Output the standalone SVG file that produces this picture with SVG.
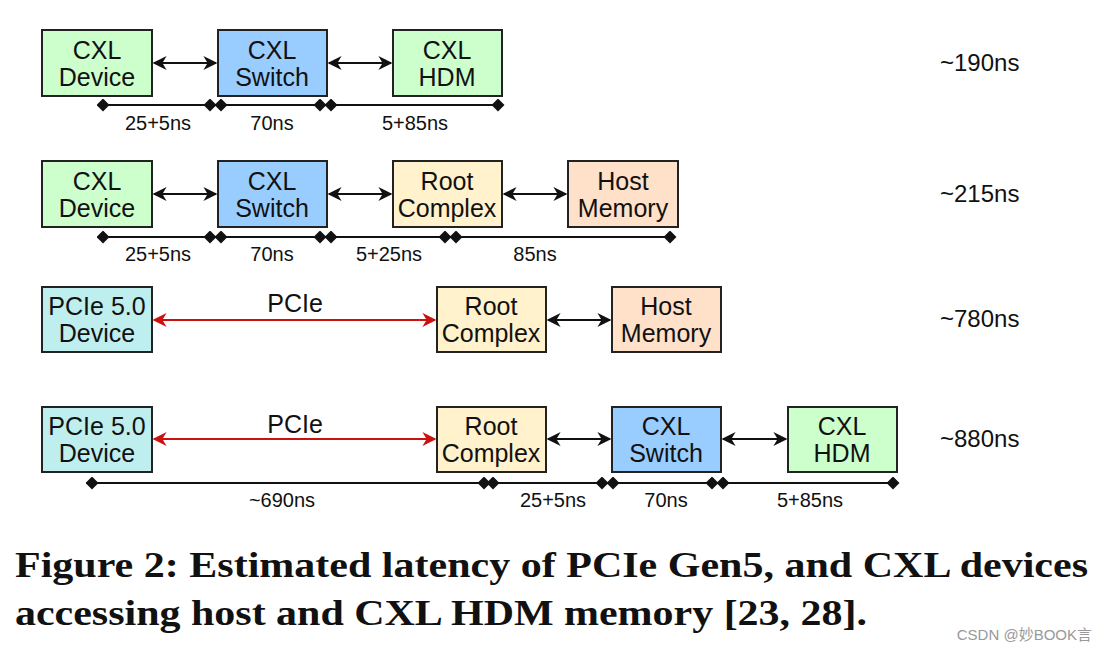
<svg xmlns="http://www.w3.org/2000/svg" width="1096" height="649" viewBox="0 0 1096 649">
<style>
.b{stroke:#222;stroke-width:2}
.g{fill:#ccffcc}.bl{fill:#99ccff}.y{fill:#fff2cc}.o{fill:#ffe0c8}.c{fill:#bfeeee}
.t{font-family:"Liberation Sans",Arial,sans-serif;font-size:25px;fill:#111;text-anchor:middle}
.s{font-family:"Liberation Sans",Arial,sans-serif;font-size:20px;fill:#111;text-anchor:middle}
.r{font-family:"Liberation Sans",Arial,sans-serif;font-size:24px;fill:#111}
.cap{font-family:"Liberation Serif","Times New Roman",serif;font-size:35px;font-weight:bold;fill:#111}
.k{stroke:#111;stroke-width:2;fill:none;marker-start:url(#ah);marker-end:url(#ah)}
.red{stroke:#cc1111;stroke-width:2;fill:none;marker-start:url(#ar);marker-end:url(#ar)}
.d{stroke:#111;stroke-width:2;fill:none;marker-start:url(#dm);marker-end:url(#dm)}
</style>
<defs>
<marker id="ah" viewBox="0 0 10 10" refX="9" refY="5" markerWidth="7" markerHeight="7" orient="auto-start-reverse" markerUnits="strokeWidth"><path d="M0,0 L10,5 L0,10 L3,5 Z" fill="#111"/></marker>
<marker id="ar" viewBox="0 0 10 10" refX="9" refY="5" markerWidth="7" markerHeight="7" orient="auto-start-reverse" markerUnits="strokeWidth"><path d="M0,0 L10,5 L0,10 L3,5 Z" fill="#cc1111"/></marker>
<marker id="dm" viewBox="0 0 10 10" refX="5" refY="5" markerWidth="6.5" markerHeight="6.5" orient="auto" markerUnits="strokeWidth"><path d="M0,5 L5,0 L10,5 L5,10 Z" fill="#111"/></marker>
</defs>
<rect width="1096" height="649" fill="#fff"/>
<g id="r1-dev"><rect class="b g" x="42" y="30" width="110" height="66"/><text class="t" x="97" y="59">CXL</text><text class="t" x="97" y="86">Device</text></g>
<g id="r1-sw"><rect class="b bl" x="218" y="30" width="109" height="66"/><text class="t" x="272" y="59">CXL</text><text class="t" x="272" y="86">Switch</text></g>
<g id="r1-hdm"><rect class="b g" x="393" y="30" width="109" height="66"/><text class="t" x="447" y="59">CXL</text><text class="t" x="447" y="86">HDM</text></g>
<g id="r2-dev"><rect class="b g" x="42" y="161" width="110" height="66"/><text class="t" x="97" y="190">CXL</text><text class="t" x="97" y="217">Device</text></g>
<g id="r2-sw"><rect class="b bl" x="218" y="161" width="109" height="66"/><text class="t" x="272" y="190">CXL</text><text class="t" x="272" y="217">Switch</text></g>
<g id="r2-rc"><rect class="b y" x="393" y="161" width="109" height="66"/><text class="t" x="447" y="190">Root</text><text class="t" x="447" y="217">Complex</text></g>
<g id="r2-hm"><rect class="b o" x="568" y="161" width="110" height="66"/><text class="t" x="623" y="190">Host</text><text class="t" x="623" y="217">Memory</text></g>
<g id="r3-dev"><rect class="b c" x="42" y="287" width="110" height="65"/><text class="t" x="97" y="315">PCIe 5.0</text><text class="t" x="97" y="342">Device</text></g>
<g id="r3-rc"><rect class="b y" x="437" y="287" width="109" height="65"/><text class="t" x="491" y="315">Root</text><text class="t" x="491" y="342">Complex</text></g>
<g id="r3-hm"><rect class="b o" x="612" y="287" width="109" height="65"/><text class="t" x="666" y="315">Host</text><text class="t" x="666" y="342">Memory</text></g>
<g id="r4-dev"><rect class="b c" x="42" y="407" width="110" height="65"/><text class="t" x="97" y="435">PCIe 5.0</text><text class="t" x="97" y="462">Device</text></g>
<g id="r4-rc"><rect class="b y" x="437" y="407" width="109" height="65"/><text class="t" x="491" y="435">Root</text><text class="t" x="491" y="462">Complex</text></g>
<g id="r4-sw"><rect class="b bl" x="612" y="407" width="109" height="65"/><text class="t" x="666" y="435">CXL</text><text class="t" x="666" y="462">Switch</text></g>
<g id="r4-hdm"><rect class="b g" x="788" y="407" width="109" height="65"/><text class="t" x="842" y="435">CXL</text><text class="t" x="842" y="462">HDM</text></g>
<g id="connectors">
<line class="k" x1="154" y1="63" x2="216" y2="63"/><line class="k" x1="329" y1="63" x2="391" y2="63"/>
<line class="k" x1="154" y1="194" x2="216" y2="194"/><line class="k" x1="329" y1="194" x2="391" y2="194"/><line class="k" x1="504" y1="194" x2="566" y2="194"/>
<line class="red" x1="154" y1="320" x2="435" y2="320"/><line class="k" x1="548" y1="320" x2="610" y2="320"/>
<line class="red" x1="154" y1="439" x2="435" y2="439"/><line class="k" x1="548" y1="439" x2="610" y2="439"/><line class="k" x1="723" y1="439" x2="786" y2="439"/>
<line class="d" x1="103" y1="105" x2="210" y2="105"/><line class="d" x1="221" y1="105" x2="320" y2="105"/><line class="d" x1="331" y1="105" x2="498" y2="105"/>
<line class="d" x1="103" y1="237" x2="210" y2="237"/><line class="d" x1="221" y1="237" x2="320" y2="237"/><line class="d" x1="331" y1="237" x2="445" y2="237"/><line class="d" x1="456" y1="237" x2="670" y2="237"/>
<line class="d" x1="92" y1="483" x2="484" y2="483"/><line class="d" x1="493" y1="483" x2="602" y2="483"/><line class="d" x1="613" y1="483" x2="712" y2="483"/><line class="d" x1="723" y1="483" x2="893" y2="483"/>
</g>
<text class="s" x="158" y="130">25+5ns</text><text class="s" x="272" y="130">70ns</text><text class="s" x="415" y="130">5+85ns</text>
<text class="s" x="389" y="261">5+25ns</text><text class="s" x="158" y="261">25+5ns</text><text class="s" x="272" y="261">70ns</text><text class="s" x="535" y="261">85ns</text>
<text class="t" x="295" y="312">PCIe</text><text class="t" x="295" y="433">PCIe</text>
<text class="s" x="282" y="507">~690ns</text><text class="s" x="553" y="507">25+5ns</text><text class="s" x="666" y="507">70ns</text><text class="s" x="810" y="507">5+85ns</text>
<text class="r" x="940" y="71">~190ns</text><text class="r" x="940" y="202">~215ns</text><text class="r" x="940" y="327">~780ns</text><text class="r" x="940" y="447">~880ns</text>
<text class="cap" x="15" y="577" textLength="1073" lengthAdjust="spacingAndGlyphs">Figure 2: Estimated latency of PCIe Gen5, and CXL devices</text>
<text class="cap" x="15" y="625" textLength="852" lengthAdjust="spacingAndGlyphs">accessing host and CXL HDM memory [23, 28].</text>
<text x="1092" y="640" text-anchor="end" font-family="'Liberation Sans','Noto Sans CJK SC',sans-serif" font-size="15" fill="#999">CSDN @妙BOOK言</text>
</svg>
